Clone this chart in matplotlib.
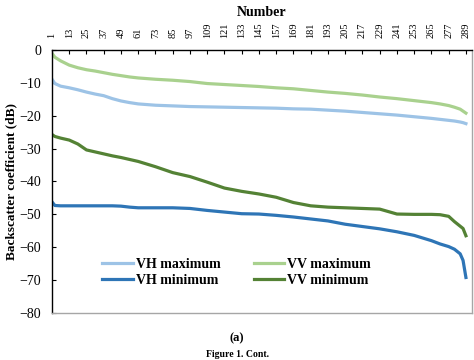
import matplotlib
matplotlib.use("Agg")
import matplotlib.pyplot as plt

plt.rcParams['font.family'] = ['Liberation Serif', 'DejaVu Serif']

# sample numbers (sorted)
number = [1, 3, 7, 13, 19, 25, 31, 37, 43, 49, 55, 61, 73, 85, 97, 109, 121,
          133, 145, 157, 169, 181, 193, 205, 217, 229, 241, 253, 265, 271, 277,
          281, 285, 287, 289]

vh_max = [-8.9, -10.2, -11.0, -11.5, -12.1, -12.8, -13.4, -13.9, -14.8, -15.5,
          -16.0, -16.4, -16.8, -17.0, -17.2, -17.3, -17.4, -17.5, -17.6, -17.7,
          -17.9, -18.0, -18.3, -18.6, -19.0, -19.4, -19.8, -20.3, -20.8, -21.1,
          -21.4, -21.6, -21.9, -22.1, -22.4]
vv_max = [-1.0, -2.2, -3.3, -4.6, -5.4, -6.0, -6.4, -6.9, -7.4, -7.8, -8.2,
          -8.5, -8.9, -9.2, -9.6, -10.2, -10.5, -10.8, -11.1, -11.5, -11.8,
          -12.3, -12.8, -13.2, -13.7, -14.3, -14.8, -15.4, -16.0, -16.4, -16.9,
          -17.4, -18.0, -18.6, -19.2]
vh_min = [-46.2, -47.3, -47.4, -47.4, -47.4, -47.4, -47.4, -47.4, -47.4, -47.5,
          -47.8, -48.0, -48.0, -48.0, -48.2, -48.8, -49.3, -49.8, -49.9, -50.3,
          -50.8, -51.4, -52.0, -53.0, -53.7, -54.4, -55.3, -56.4, -58.0, -59.0,
          -59.8, -60.6, -62.0, -64.0, -69.2]
vv_min = [-25.7, -26.3, -26.8, -27.4, -28.6, -30.4, -31.0, -31.6, -32.2, -32.7,
          -33.3, -33.9, -35.5, -37.3, -38.5, -40.2, -42.0, -43.0, -43.8, -44.8,
          -46.4, -47.4, -47.8, -48.0, -48.2, -48.4, -49.9, -50.0, -50.0, -50.1,
          -50.6, -52.2, -53.6, -54.3, -56.5]

xticks = list(range(1, 290, 12))
yticks = list(range(0, -81, -10))

fig = plt.figure(figsize=(4.74, 3.6), dpi=100)
ax = fig.add_axes([0.1097, 0.1306, 0.886, 0.7305])

lw = 2.3
l1, = ax.plot(number, vh_max, color='#9dc3e6', lw=lw, label='VH maximum')
l2, = ax.plot(number, vv_max, color='#a9d18e', lw=lw, label='VV maximum')
l3, = ax.plot(number, vh_min, color='#2e75b6', lw=lw, label='VH minimum')
l4, = ax.plot(number, vv_min, color='#548235', lw=lw, label='VV minimum')

ax.set_xlim(1, 293.2)
ax.set_ylim(-80, 0)

ax.xaxis.tick_top()
ax.xaxis.set_label_position('top')
ax.set_xticks(xticks)
ax.set_xticklabels([str(t) for t in xticks], rotation=90, fontsize=7.5)
ax.set_yticks(yticks)
ax.set_yticklabels([str(t).replace('-', '\u2212') for t in yticks], fontsize=10)
ax.tick_params(axis='x', direction='in', length=3, width=0.8, pad=9)
ax.tick_params(axis='y', direction='in', length=3, width=0.8, pad=8)

ax.set_xlabel('Number', fontsize=10, fontweight='bold', labelpad=4)
ax.set_ylabel('Backscatter coefficient (dB)', fontsize=9.5, fontweight='bold',
              labelpad=1)

ax.spines['top'].set_color('black')
ax.spines['left'].set_color('black')
ax.spines['right'].set_color('#a6a6a6')
ax.spines['bottom'].set_color('#a6a6a6')
for s in ax.spines.values():
    s.set_linewidth(1.0)

ax.legend([l1, l3, l2, l4], ['VH maximum', 'VH minimum', 'VV maximum', 'VV minimum'],
          ncol=2, loc='lower left', bbox_to_anchor=(0.09, 0.05), frameon=False,
          prop={'weight': 'bold', 'size': 10}, handlelength=2.2,
          handletextpad=0.2, columnspacing=2.4, labelspacing=0.25)

fig.text(0.5, 0.06, '(a)', ha='center', va='center', fontsize=9,
         fontweight='bold')
fig.text(0.5, 0.002, 'Figure 1. Cont.', ha='center', va='bottom',
         fontsize=7, fontweight='bold')

fig.savefig('out.png', dpi=100)
